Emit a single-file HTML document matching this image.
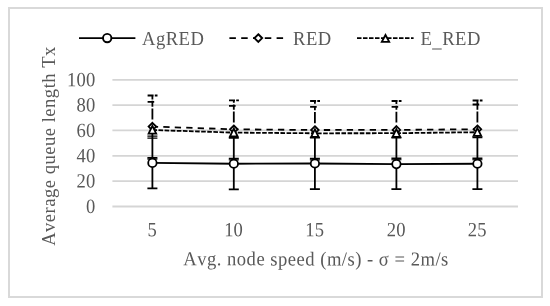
<!DOCTYPE html>
<html><head><meta charset="utf-8">
<style>
html,body{margin:0;padding:0;background:#fff;}
svg{display:block;}
text{font-family:"Liberation Serif","DejaVu Serif",serif;font-size:19.8px;letter-spacing:0.52px;font-kerning:none;fill:#595959;}
.d{font-size:20.2px;letter-spacing:0.15px;}
</style></head>
<body>
<svg width="550" height="306" viewBox="0 0 550 306">
<rect x="0" y="0" width="550" height="306" fill="#fff"/>
<rect x="9" y="8" width="533" height="289" fill="#fff" stroke="#d9d9d9" stroke-width="2"/>
<g stroke="#d5d5d5" stroke-width="1.8">
<line x1="112.4" x2="518" y1="79.8" y2="79.8"/>
<line x1="112.4" x2="518" y1="105.1" y2="105.1"/>
<line x1="112.4" x2="518" y1="130.45" y2="130.45"/>
<line x1="112.4" x2="518" y1="155.8" y2="155.8"/>
<line x1="112.4" x2="518" y1="181.1" y2="181.1"/>
<line x1="112.4" x2="518" y1="206.5" y2="206.5"/>
</g>
<g text-anchor="end">
<text class="d" transform="translate(95.40,86.20) rotate(0.03) scale(0.92,1)">100</text>
<text class="d" transform="translate(95.40,111.60) rotate(0.03) scale(0.92,1)">80</text>
<text class="d" transform="translate(95.40,136.90) rotate(0.03) scale(0.92,1)">60</text>
<text class="d" transform="translate(95.40,162.30) rotate(0.03) scale(0.92,1)">40</text>
<text class="d" transform="translate(95.40,187.60) rotate(0.03) scale(0.92,1)">20</text>
<text class="d" transform="translate(95.40,213.00) rotate(0.03) scale(0.92,1)">0</text>
</g>
<g text-anchor="middle">
<text class="d" transform="translate(152.20,236.30) rotate(0.03) scale(0.92,1)">5</text>
<text class="d" transform="translate(233.60,236.30) rotate(0.03) scale(0.92,1)">10</text>
<text class="d" transform="translate(314.70,236.30) rotate(0.03) scale(0.92,1)">15</text>
<text class="d" transform="translate(396.20,236.30) rotate(0.03) scale(0.92,1)">20</text>
<text class="d" transform="translate(477.20,236.30) rotate(0.03) scale(0.92,1)">25</text>
<text transform="translate(316.00,265.40) rotate(0.03) scale(0.94,1)">Avg. node speed (m/s) - σ = 2m/s</text>
<text transform="translate(55.3,146) rotate(-90) scale(0.94,1)">Average queue length Tx</text>
</g>
<g fill="none" stroke="#000" stroke-width="1.8">
<path d="M152.4 137.95V188.4M147.4 188.4h10"/>
<path stroke-width="1.25" d="M147.4 136.0h10M147.4 138.0h10"/>
<path d="M233.8 137.8V189.4M228.8 137.8h10M228.8 189.4h10"/>
<path d="M314.9 137.7V189.2M309.9 137.7h10M309.9 189.2h10"/>
<path d="M396.4 137.7V189.2M391.4 137.7h10M391.4 189.2h10"/>
<path d="M477.4 137.4V189.2M472.4 137.4h10M472.4 189.2h10"/>
<path d="M152.4 94.6V99.4M152.4 100.8V106.7M152.4 108.5V119.5M147.6 95.5H153.6M154.8 95.5H157.5M147.6 101.8H154.2M147.4 157.8h10M152.4 133.7V137.95"/>
<path stroke-width="1.1" d="M147.4 159.15h10"/>
<path d="M233.8 99.5V102.8M233.8 104.6V109.7M233.8 111.5V122.6M229.0 100.4H235.0M236.2 100.4H238.9M229.0 105.8H235.6M228.8 158.6h10M233.8 136.3V137.8"/>
<path stroke-width="1.1" d="M228.8 159.95h10"/>
<path d="M314.9 100.1V103.7M314.9 106.0V110.3M314.9 111.9V123.3M310.1 101.0H316.1M317.3 101.0H320.0M310.1 106.9H316.7M309.9 158.6h10M314.9 137.0V137.7"/>
<path stroke-width="1.1" d="M309.9 159.95h10"/>
<path d="M396.4 100.1V104.0M396.4 105.8V109.7M396.4 111.8V122.6M391.6 101.0H397.6M398.8 101.0H401.5M391.6 106.9H398.2M391.4 158.4h10M396.4 136.9V137.7"/>
<path stroke-width="1.1" d="M391.4 159.75h10"/>
<path d="M477.4 99.6V109.7M477.4 111.5V122.6M472.6 100.5H478.6M479.8 100.5H482.5M472.6 104.5H479.2M472.4 158.4h10M477.4 135.9V137.4"/>
<path stroke-width="1.1" d="M472.4 159.75h10"/>
<polyline points="152.4,162.9 233.8,163.75 314.9,163.5 396.4,164.1 477.4,163.75"/>
<circle cx="152.4" cy="162.9" r="4.2" fill="#fff"/>
<circle cx="233.8" cy="163.75" r="4.2" fill="#fff"/>
<circle cx="314.9" cy="163.5" r="4.2" fill="#fff"/>
<circle cx="396.4" cy="164.1" r="4.2" fill="#fff"/>
<circle cx="477.4" cy="163.75" r="4.2" fill="#fff"/>
<polyline stroke-dasharray="6.3 5.17" stroke-dashoffset="0.57" points="152.4,126.6 233.8,129.3 314.9,130.0 396.4,129.9 477.4,129.2"/>
<path fill="#fff" d="M152.4 122.8L156.2 126.6L152.4 130.4L148.6 126.6Z"/>
<path fill="#fff" d="M233.8 125.5L237.6 129.3L233.8 133.1L230.0 129.3Z"/>
<path fill="#fff" d="M314.9 126.2L318.7 130.0L314.9 133.8L311.1 130.0Z"/>
<path fill="#fff" d="M396.4 126.1L400.2 129.9L396.4 133.7L392.6 129.9Z"/>
<path fill="#fff" d="M477.4 125.4L481.2 129.2L477.4 133.0L473.6 129.2Z"/>
<polyline stroke-dasharray="4.6 1.5" points="152.4,130.0 233.8,132.6 314.9,133.3 396.4,133.2 477.4,132.2"/>
<path fill="#fff" d="M152.4 125.9L156.2 133.7L148.6 133.7Z"/>
<path fill="#fff" d="M233.8 128.5L237.6 136.3L230.0 136.3Z"/>
<path fill="#fff" d="M314.9 129.2L318.7 137.0L311.1 137.0Z"/>
<path fill="#fff" d="M396.4 129.1L400.2 136.9L392.6 136.9Z"/>
<path fill="#fff" d="M477.4 128.1L481.2 135.9L473.6 135.9Z"/>
</g><g fill="none" stroke="#000" stroke-width="1.95">
<line x1="79" x2="135.4" y1="38.1" y2="38.1"/>
<circle cx="107.2" cy="38.1" r="4.2" fill="#fff"/>
<line x1="229.4" x2="285.8" y1="38.1" y2="38.1" stroke-dasharray="6.5 5.3"/>
<path fill="#fff" d="M258.3 34.3L262.1 38.1L258.3 41.9L254.5 38.1Z"/>
<line x1="357" x2="413.6" y1="38.1" y2="38.1" stroke-dasharray="4.5 1.5"/>
<path fill="#fff" stroke-width="1.8" d="M385.5 35.0L389.2 41.9L381.8 41.9Z"/>
</g>
<text transform="translate(142.00,44.90) rotate(0.03) scale(0.94,1)">AgRED</text>
<text transform="translate(293.00,44.90) rotate(0.03) scale(0.94,1)">RED</text>
<text transform="translate(420.50,44.90) rotate(0.03) scale(0.94,1)">E<tspan dy="2">_</tspan><tspan dy="-2">RED</tspan></text>
</svg>
</body></html>
